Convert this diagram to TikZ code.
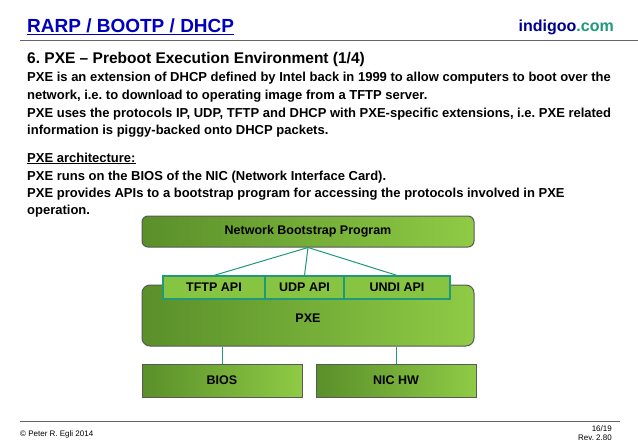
\documentclass[tikz,border=0pt]{standalone}
\usepackage{fontspec}
\setmainfont{Liberation Sans}
\definecolor{gdark}{HTML}{5A8F2A}
\definecolor{glight}{HTML}{8FCB45}
\definecolor{gapi}{HTML}{86C441}
\definecolor{conc}{HTML}{1E9A7A}
\begin{document}
\frenchspacing
\begin{tikzpicture}[x=1pt,y=-1pt,
  txt/.style={anchor=base west,inner sep=0pt,font=\bfseries\fontsize{13}{15}\selectfont},
  gbox/.style={draw=black!65,line width=1pt,left color=gdark,right color=glight,inner sep=0pt,font=\bfseries\fontsize{12.5}{14}\selectfont},
  api/.style={draw=conc,line width=1.2pt,fill=gapi,inner sep=0pt,font=\bfseries\fontsize{12.5}{14}\selectfont},
  con/.style={draw=conc,line width=1pt}]
\useasboundingbox (0,0) rectangle (638,442);
\fill[white] (0,0) rectangle (638,442);
\node[anchor=base west,inner sep=0pt,text=blue!75!black,font=\bfseries\fontsize{19}{22}\selectfont] (title) at (27,32) {\underline{RARP / BOOTP / DHCP}};
\node[anchor=base east,inner sep=0pt,font=\bfseries\fontsize{16}{18}\selectfont] (logo) at (614,31) {\textcolor{blue!55!black}{indigoo}\textcolor{conc}{.com}};
\draw[black!60,line width=1pt] (20,40) -- (638,40);
\node[anchor=base west,inner sep=0pt,font=\bfseries\fontsize{15.5}{18}\selectfont] (h) at (27,63) {6. PXE – Preboot Execution Environment (1/4)};
\node[txt] (l1) at (27,81) {PXE is an extension of DHCP defined by Intel back in 1999 to allow computers to boot over the};
\node[txt] (l2) at (27,99) {network, i.e. to download to operating image from a TFTP server.};
\node[txt] (l3) at (27,117) {PXE uses the protocols IP, UDP, TFTP and DHCP with PXE-specific extensions, i.e. PXE related};
\node[txt] (l4) at (27,134) {information is piggy-backed onto DHCP packets.};
\node[txt] (l5) at (27,162) {\underline{PXE architecture:}};
\node[txt] (l6) at (27,180) {PXE runs on the BIOS of the NIC (Network Interface Card).};
\node[txt] (l7) at (27,197) {PXE provides APIs to a bootstrap program for accessing the protocols involved in PXE};
\node[txt] (l8) at (27,214) {operation.};
\node[gbox,rounded corners=6pt,minimum width=332pt,minimum height=31pt] (nbp) at (308,231.5) {Network Bootstrap Program};
\node[gbox,rounded corners=8pt,minimum width=332pt,minimum height=61pt,text depth=0pt] (pxe) at (308,315.5) {\raisebox{-6pt}{PXE}};
\node[api,minimum width=102pt,minimum height=23pt] (tftp) at (214,287.5) {TFTP API};
\node[api,minimum width=79pt,minimum height=23pt] (udp) at (304.5,287.5) {UDP API};
\node[api,minimum width=106pt,minimum height=23pt] (undi) at (397,287.5) {UNDI API};
\node[gbox,minimum width=160pt,minimum height=33pt] (bios) at (222,380.5) {BIOS};
\node[gbox,minimum width=160pt,minimum height=33pt] (nic) at (396,380.5) {NIC HW};
\draw[con] (nbp.south) -- (tftp.north);
\draw[con] (nbp.south) -- (udp.north);
\draw[con] (nbp.south) -- (undi.north);
\draw[con] (bios.north) -- (bios.north |- pxe.south);
\draw[con] (nic.north) -- (nic.north |- pxe.south);
\draw[black!60,line width=0.8pt] (20,421) -- (620,421);
\node[anchor=base west,inner sep=0pt,font=\fontsize{8}{9}\selectfont] (copy) at (20,436) {© Peter R. Egli 2014};
\node[anchor=base east,inner sep=0pt,font=\fontsize{8}{9}\selectfont] (pg) at (612,431) {16/19};
\node[anchor=base east,inner sep=0pt,font=\fontsize{8}{9}\selectfont] (rev) at (612,440) {Rev. 2.80};
\end{tikzpicture}
\end{document}
